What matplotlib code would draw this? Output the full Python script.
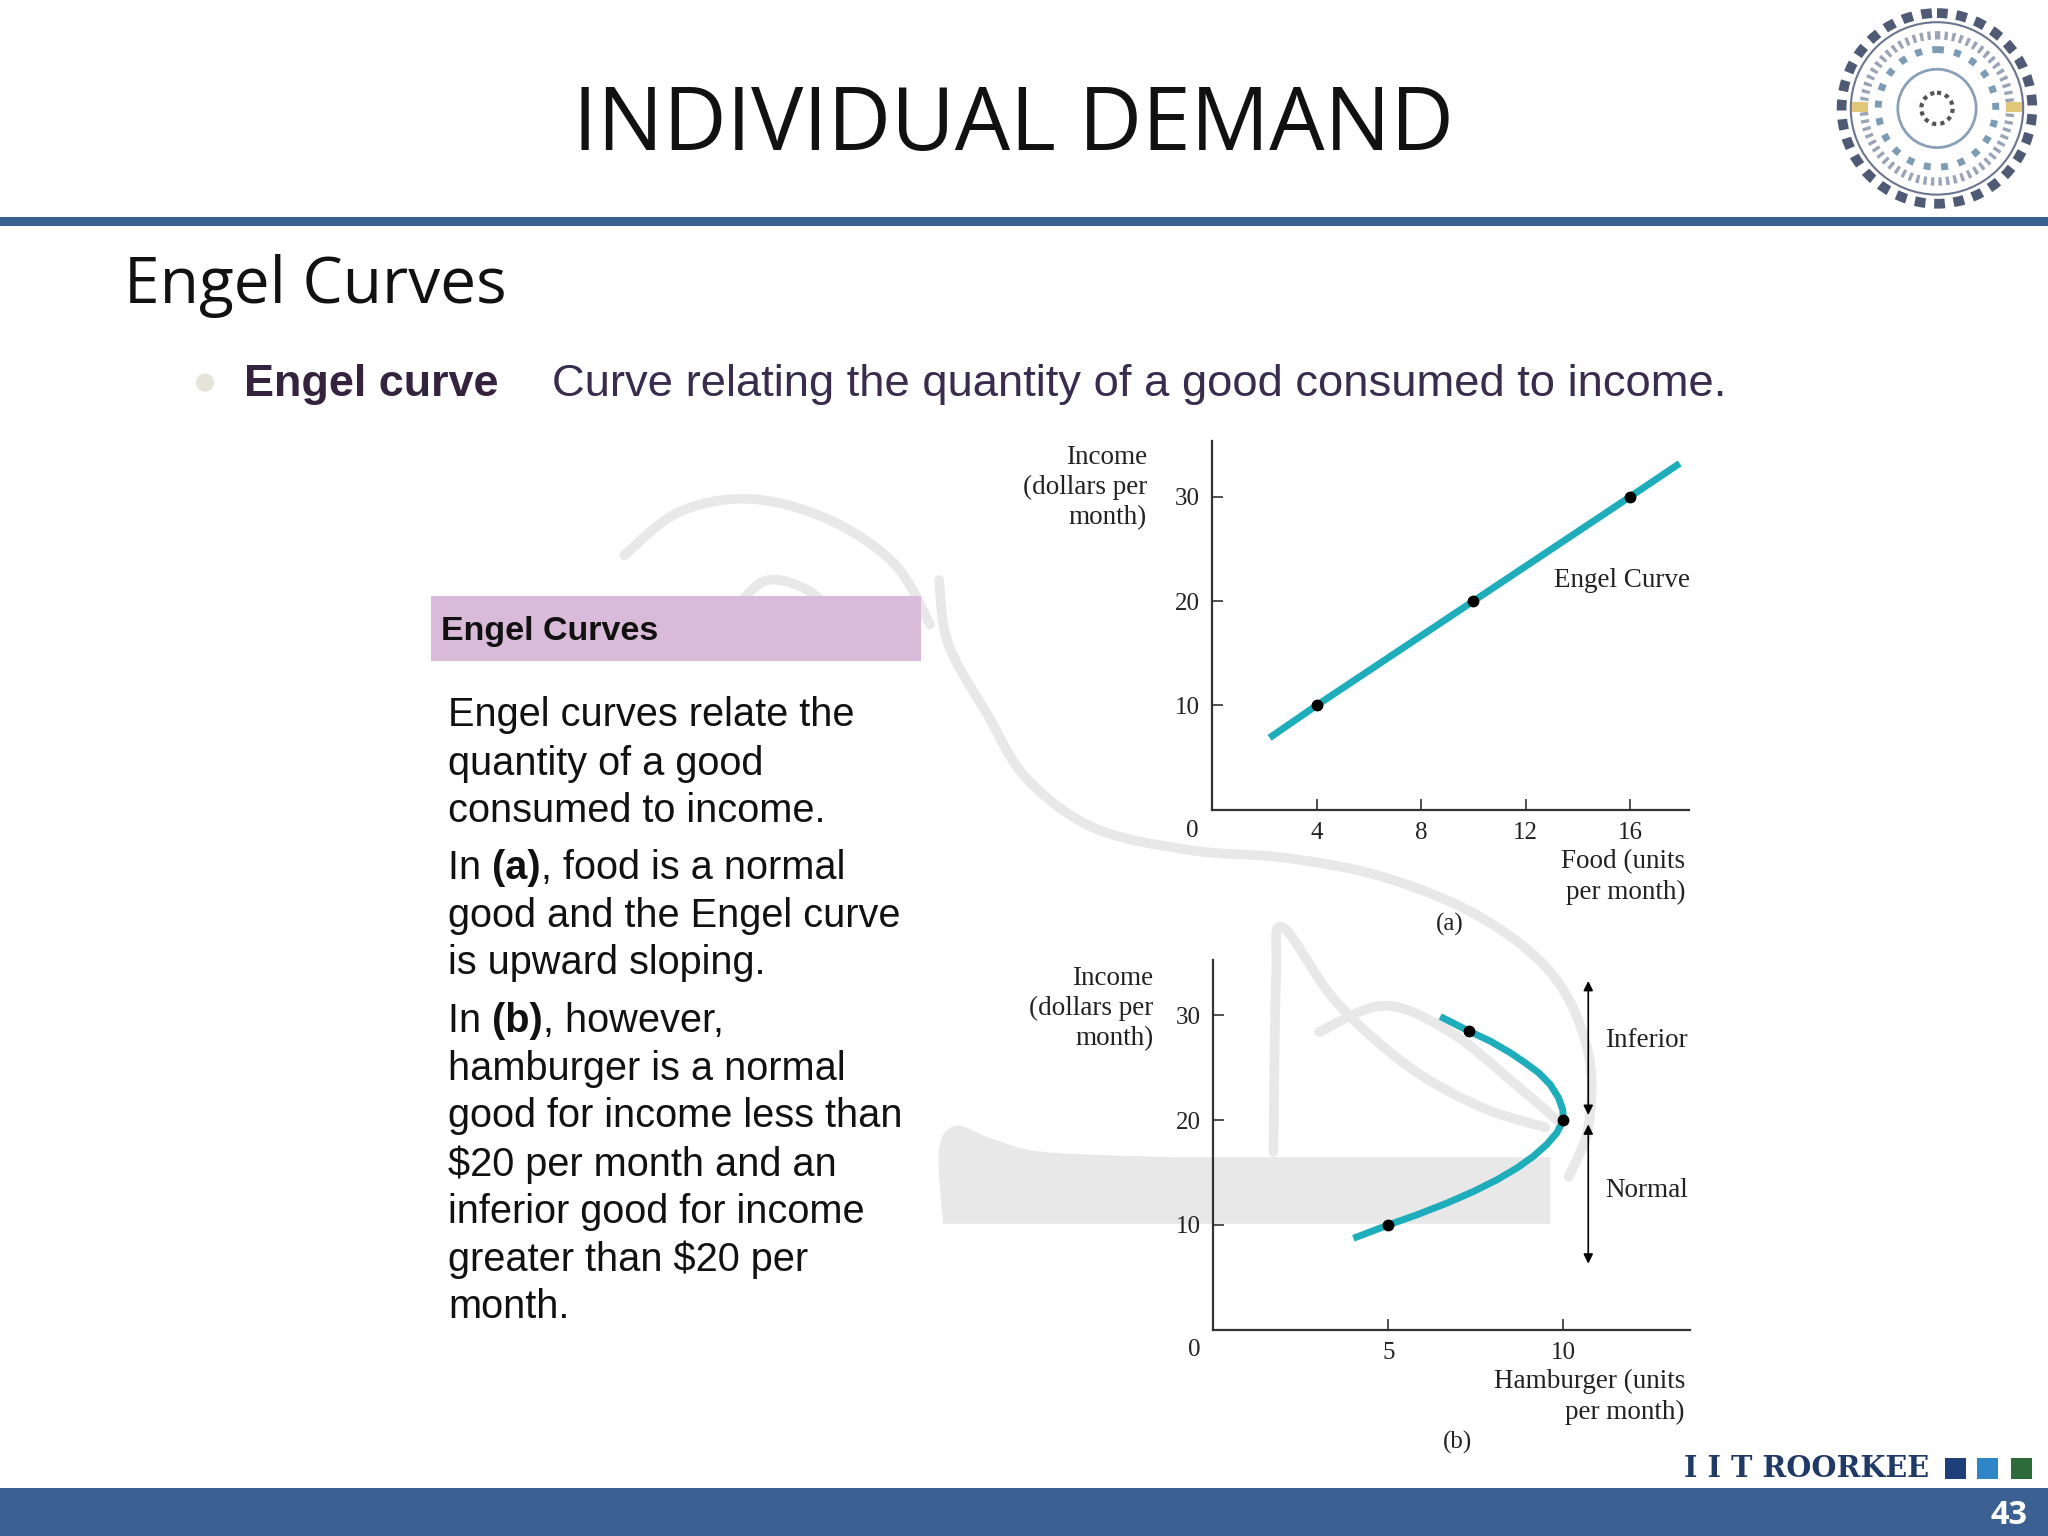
import numpy as np
import matplotlib
matplotlib.use("Agg")
import matplotlib.pyplot as plt
from matplotlib.patches import Rectangle, Circle

# panel (a): food is a normal good
food_pts = [4, 10, 16]
food_income_pts = [10, 20, 30]
food_line = [2.2, 4, 10, 16, 17.9]
food_line_income = [6.9, 10, 20, 30, 33.2]
food_ticks = [4, 8, 12, 16]

# panel (b): hamburger turns inferior above $20
ham_pts = [5, 10, 7.3]
ham_income_pts = [10, 20, 28.5]
ham_curve = [4.0, 5.0, 5.81, 6.67, 7.43, 8.10, 8.67, 9.14, 9.52, 9.81, 10.0,
             9.98, 9.86, 9.62, 9.29, 8.90, 8.48, 7.90, 7.29, 6.48]
ham_curve_income = [8.72, 10.0, 10.96, 12.08, 13.19, 14.31, 15.43, 16.55, 17.67, 18.79, 20.0,
                    21.02, 22.14, 23.42, 24.54, 25.50, 26.45, 27.57, 28.53, 29.9]
ham_ticks = [5, 10]
income_ticks = [10, 20, 30]

body_lines = [
    [("Engel curves relate the", "normal")],
    [("quantity of a good", "normal")],
    [("consumed to income.", "normal")],
    [("In ", "normal"), ("(a)", "bold"), (", food is a normal", "normal")],
    [("good and the Engel curve", "normal")],
    [("is upward sloping.", "normal")],
    [("In ", "normal"), ("(b)", "bold"), (", however,", "normal")],
    [("hamburger is a normal", "normal")],
    [("good for income less than", "normal")],
    [("$20 per month and an", "normal")],
    [("inferior good for income", "normal")],
    [("greater than $20 per", "normal")],
    [("month.", "normal")],
]
body_y = [556, 593, 629, 673, 710, 746, 790, 827, 863, 900, 936, 973, 1009]

W, H = 1568, 1176
P = 0.9404          # points per reference pixel
TEAL = "#1EADBA"
SERIF = "Liberation Serif"
SANS = "Liberation Sans"
WM = "#E8E8E8"


def smooth(pts, n=20):
    # catmull-rom, only for the background watermark strokes
    p = np.array(pts, float)
    p = np.vstack([p[0], p, p[-1]])
    out = []
    for i in range(1, len(p) - 2):
        p0, p1, p2, p3 = p[i - 1], p[i], p[i + 1], p[i + 2]
        for t in np.linspace(0, 1, n, endpoint=False):
            out.append(0.5 * ((2 * p1) + (-p0 + p2) * t + (2 * p0 - 5 * p1 + 4 * p2 - p3) * t ** 2
                              + (-p0 + 3 * p1 - 3 * p2 + p3) * t ** 3))
    out.append(p[-2])
    out = np.array(out)
    return out[:, 0], out[:, 1]


fig = plt.figure(figsize=(20.48, 15.36), dpi=100)
fig.patch.set_facecolor("white")
bg = fig.add_axes([0, 0, 1, 1])
bg.set_xlim(0, W)
bg.set_ylim(H, 0)
bg.axis("off")

# faint watermark
bx, by = smooth([(722, 937), (719, 880), (732, 862), (760, 872), (800, 882), (900, 886)])
bg.fill(list(bx) + [1187, 1187], list(by) + [886, 937], color=WM, lw=0, zorder=0)
strokes = [
    [(719, 444), (726, 493), (756, 547), (786, 596), (838, 634), (912, 651), (986, 657),
     (1061, 672), (1135, 703), (1190, 748), (1216, 806), (1216, 863), (1201, 901)],
    [(975, 882), (977, 748), (982, 710), (1023, 767), (1079, 817), (1135, 848), (1183, 863)],
    [(1010, 790), (1060, 770), (1110, 790), (1160, 830), (1195, 860)],
    [(478, 425), (520, 392), (575, 382), (635, 398), (685, 432), (712, 478)],
    [(560, 470), (585, 445), (615, 450), (640, 470)],
]
for s in strokes:
    sx, sy = smooth(s)
    bg.plot(sx, sy, color=WM, lw=7, solid_capstyle="round", zorder=0)

# header
bg.text(776, 115, "INDIVIDUAL DEMAND", fontsize=67 * P, family="Open Sans",
        ha="center", va="baseline", color="#111111")
bg.add_patch(Rectangle((0, 166), W, 7, color="#3A6192", lw=0))

# logo
bg.add_patch(Circle((1483, 83), 73, fill=False, ec="#4F5A75", lw=7, ls=(0, (1.1, 0.9))))
bg.add_patch(Circle((1483, 83), 66, fill=False, ec="#6B7590", lw=1.5))
bg.add_patch(Circle((1483, 83), 56, fill=False, ec="#9AA4B6", lw=6, ls=(0, (0.4, 0.5))))
bg.add_patch(Circle((1483, 83), 45, fill=False, ec="#7C9BB5", lw=5, ls=(0, (1, 1.5))))
bg.add_patch(Circle((1483, 83), 30, fill=False, ec="#8AA0B8", lw=2))
bg.add_patch(Circle((1483, 83), 12, fill=False, ec="#555555", lw=3, ls=(0, (1, 1))))
bg.add_patch(Rectangle((1418, 78), 12, 8, color="#E2C77A", lw=0))
bg.add_patch(Rectangle((1536, 78), 12, 8, color="#E2C77A", lw=0))

bg.text(95, 232, "Engel Curves", fontsize=49 * P, family="Open Sans", va="baseline", color="#111111")

bg.add_patch(Circle((157, 293), 7, color="#E4E4DA", lw=0))
bg.text(187, 303, "Engel curve", fontsize=34.5 * P, family=SANS, fontweight="bold",
        va="baseline", color="#35223F")
bg.text(423, 303, "Curve relating the quantity of a good consumed to income.", fontsize=34.7 * P,
        family=SANS, va="baseline", color="#3A2C4E")

# side box
bg.add_patch(Rectangle((330, 456), 375, 50, color="#D9BBD9", lw=0))
bg.text(338, 490, "Engel Curves", fontsize=26 * P, family=SANS, fontweight="bold",
        va="baseline", color="#111111")

r = fig.canvas.get_renderer()
px_per_unit = fig.bbox.width / W
for parts, y in zip(body_lines, body_y):
    x = 343
    for s, wt in parts:
        t = bg.text(x, y, s, fontsize=30.4 * P, family=SANS, fontweight=wt,
                    va="baseline", color="#111111")
        x += t.get_window_extent(renderer=r).width / px_per_unit

# footer
bg.add_patch(Rectangle((0, 1139), W, H - 1139, color="#3B6193", lw=0))
bg.text(1552, 1160, "43", fontsize=25 * P, family="Open Sans", fontweight="bold",
        ha="right", va="center", color="white")
bg.text(1289, 1124, "I I T ROORKEE", fontsize=22 * P, family="DejaVu Serif", fontweight="bold",
        ha="left", va="center", color="#203A68")
for sx, c in zip([1489, 1514, 1540], ["#1F3F7A", "#2E86C8", "#2E6B3A"]):
    bg.add_patch(Rectangle((sx, 1116), 16, 16, color=c, lw=0))


def setup(ax, xlim, xticks):
    ax.set_facecolor("none")
    ax.set_xlim(0, xlim)
    ax.set_ylim(0, 35.3)
    for s in ["top", "right"]:
        ax.spines[s].set_visible(False)
    for s in ["left", "bottom"]:
        ax.spines[s].set_linewidth(1.6)
        ax.spines[s].set_color("#333333")
    ax.set_xticks(xticks)
    ax.set_yticks(income_ticks)
    ax.tick_params(direction="in", length=8, width=1.2, color="#333333",
                   labelsize=18, pad=9)
    for lab in ax.get_xticklabels() + ax.get_yticklabels():
        lab.set_family(SERIF)
        lab.set_color("#222222")
    ax.annotate("0", xy=(0, 0), xytext=(-14, -15), textcoords="offset points",
                ha="center", va="center", fontsize=18, family=SERIF, color="#222222")


lab_kw = dict(fontsize=19.5, family=SERIF, color="#222222", linespacing=1.27,
              ha="right", va="top", multialignment="right")

# chart (a)
axa = fig.add_axes([928 / W, 1 - 620 / H, 365 / W, 282 / H])
setup(axa, 18.25, food_ticks)
axa.plot(food_line, food_line_income, color=TEAL, lw=5, solid_capstyle="butt", zorder=2)
axa.plot(food_pts, food_income_pts, "o", color="black", ms=7.5, zorder=3)
axa.text(18.3, 22, "Engel Curve", fontsize=19.5, family=SERIF, ha="right", va="center", color="#222222")
axa.set_ylabel("Income\n(dollars per\nmonth)", rotation=0, **lab_kw)
axa.yaxis.set_label_coords(-0.137, 0.99)
axa.set_xlabel("Food (units\nper month)", **lab_kw)
axa.xaxis.set_label_coords(0.992, -0.107)
axa.text(0.499, -0.312, "(a)", transform=axa.transAxes, ha="center", va="center",
         fontsize=18, family=SERIF, color="#222222")

# chart (b)
axb = fig.add_axes([929 / W, 1 - 1018 / H, 365 / W, 283 / H])
setup(axb, 13.62, ham_ticks)
axb.plot(ham_curve, ham_curve_income, color=TEAL, lw=5, solid_capstyle="butt",
         solid_joinstyle="round", zorder=2)
axb.plot(ham_pts, ham_income_pts, "o", color="black", ms=7.5, zorder=3)
arrow = dict(arrowstyle="<|-|>", color="black", lw=1.2, mutation_scale=14, shrinkA=0, shrinkB=0)
axb.annotate("", xy=(10.71, 33.3), xytext=(10.71, 20.5), arrowprops=arrow)
axb.annotate("", xy=(10.71, 19.6), xytext=(10.71, 6.3), arrowprops=arrow)
axb.text(13.55, 27.6, "Inferior", fontsize=19.5, family=SERIF, ha="right", va="center", color="#222222")
axb.text(13.55, 13.25, "Normal", fontsize=19.5, family=SERIF, ha="right", va="center", color="#222222")
axb.set_ylabel("Income\n(dollars per\nmonth)", rotation=0, **lab_kw)
axb.yaxis.set_label_coords(-0.126, 0.985)
axb.set_xlabel("Hamburger (units\nper month)", **lab_kw)
axb.xaxis.set_label_coords(0.989, -0.107)
axb.text(0.512, -0.304, "(b)", transform=axb.transAxes, ha="center", va="center",
         fontsize=18, family=SERIF, color="#222222")

fig.savefig("out.png", dpi=100, facecolor="white")
